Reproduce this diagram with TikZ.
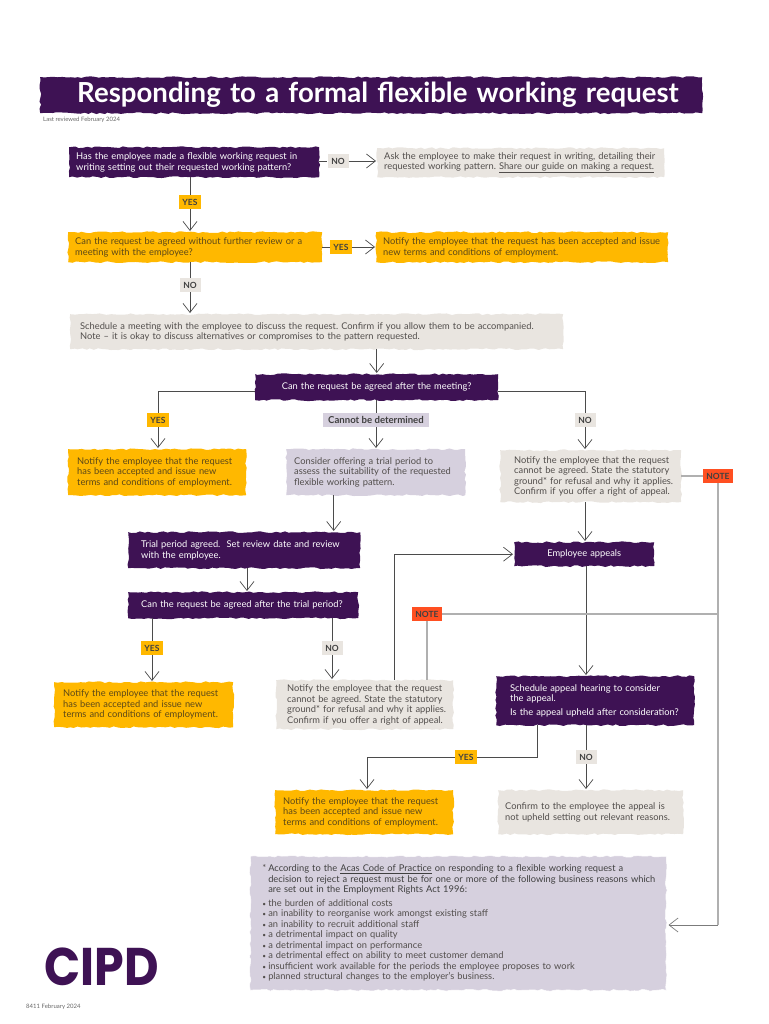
\documentclass[tikz,border=0pt]{standalone}
\usepackage{fontspec}
\setmainfont{Lato}
\newfontfamily\logofont{Poppins}
\definecolor{BrandPurple}{RGB}{62,18,84}
\definecolor{BrandAmber}{RGB}{255,184,0}
\definecolor{BrandGrey}{RGB}{233,229,224}
\definecolor{BrandLilac}{RGB}{214,208,222}
\definecolor{BrandRed}{RGB}{255,79,33}
\definecolor{BodyText}{RGB}{82,78,76}
\definecolor{AmberText}{RGB}{92,72,24}
\definecolor{DarkLine}{RGB}{75,75,75}
\definecolor{PaleLine}{RGB}{176,176,176}
\usetikzlibrary{arrows.meta, decorations.pathmorphing}
\newcommand{\bulletline}[1]{\makebox[6pt][l]{\scalebox{0.7}{•}}#1}
\frenchspacing
\tikzset{
  brush/.style={decorate, decoration={random steps, segment length=4pt, amplitude=0.9pt}},
  leadin/.style={execute at begin node={\leftskip=#1\relax}},
  flowbox/.style 2 args={anchor=north west, brush, inner xsep=7pt, inner ysep=2pt, text width=#1, minimum height=#2, align=left, font=\fontsize{9.3}{10.5}\selectfont},
  purplebox/.style 2 args={flowbox={#1}{#2}, fill=BrandPurple, text=white},
  amberbox/.style 2 args={flowbox={#1}{#2}, fill=BrandAmber, text=AmberText},
  greybox/.style 2 args={flowbox={#1}{#2}, fill=BrandGrey, text=BodyText},
  lilacbox/.style 2 args={flowbox={#1}{#2}, fill=BrandLilac, text=BodyText},
  tagbox/.style={inner sep=0pt, minimum height=14pt, font=\fontsize{8.5}{10}\selectfont\bfseries, text=black!75},
  yestag/.style={tagbox, fill=BrandAmber, minimum width=22pt},
  notag/.style={tagbox, fill=BrandGrey, minimum width=21pt},
  notetag/.style={tagbox, fill=BrandRed, minimum width=30pt},
  plainline/.style={DarkLine, line width=0.7pt},
  paleline/.style={PaleLine, line width=1.1pt},
  flowarrow/.style={plainline, -{Straight Barb[length=9pt, width=14pt, line width=0.7pt]}, shorten >=1pt},
  smalltext/.style={anchor=west, inner sep=0pt, font=\fontsize{6}{7}\selectfont, text=black!60}
}
\begin{document}
\begin{tikzpicture}[x=1pt, y=-1pt]
          \pgfmathsetseed{8411}
          \useasboundingbox (0,0) rectangle (768,1024);
          \node[purplebox={626pt}{36pt}, inner xsep=18pt, leadin=19pt, font=\fontsize{27.6}{30}\selectfont\bfseries] (title) at (40,77) {Responding to a formal flexible working request};
          \node[smalltext] (reviewed) at (43,120) {Last reviewed February 2024};

          \node[purplebox={236pt}{30pt}] (qwritten) at (69,147) {Has the employee made a flexible working request in\\writing setting out their requested working pattern?};
          \node[greybox={273pt}{29pt}] (askwritten) at (377,148) {Ask the employee to make their request in writing, detailing their\\requested working pattern. \underline{Share our guide on making a request.}};
          \node[notag] (nowritten) at (338,161) {NO};
          \node[yestag] (yeswritten) at (190,202) {YES};

          \node[amberbox={240pt}{30pt}] (qfurther) at (68,232) {Can the request be agreed without further review or a\\meeting with the employee?};
          \node[amberbox={278pt}{30pt}] (acceptfurther) at (376,232) {Notify the employee that the request has been accepted and issue\\new terms and conditions of employment.};
          \node[yestag] (yesfurther) at (341,247) {YES};
          \node[notag] (nofurther) at (190,285) {NO};

          \node[greybox={473pt}{35pt}, inner xsep=10pt] (meeting) at (70,314) {Schedule a meeting with the employee to discuss the request. Confirm if you allow them to be accompanied.\\Note -- it is okay to discuss alternatives or compromises to the pattern requested.};

          \node[purplebox={229pt}{26pt}, align=center] (qmeeting) at (255,374) {Can the request be agreed after the meeting?};
          \node[yestag] (yesmeeting) at (158,420) {YES};
          \node[tagbox, fill=BrandLilac, minimum width=106pt, font=\fontsize{9.6}{10}\selectfont\bfseries] (unknownmeeting) at (376,420) {Cannot be determined};
          \node[notag] (nomeeting) at (585,420) {NO};

          \node[amberbox={160pt}{46pt}, inner xsep=9pt] (acceptmeeting) at (68,449) {Notify the employee that the request\\has been accepted and issue new\\terms and conditions of employment.};
          \node[lilacbox={163pt}{46pt}, inner xsep=8pt] (trialoffer) at (286,449) {Consider offering a trial period to\\assess the suitability of the requested\\flexible working pattern.};
          \node[greybox={165pt}{52pt}, inner xsep=8pt, leadin=6pt] (refusemeeting) at (500,450) {Notify the employee that the request\\cannot be agreed. State the statutory\\ground* for refusal and why it applies.\\Confirm if you offer a right of appeal.};
          \node[notetag] (noteright) at (718,476) {NOTE};

          \node[purplebox={206pt}{36pt}, inner xsep=13pt] (trialagreed) at (128,532) {Trial period agreed.\ \ Set review date and review\\with the employee.};
          \node[purplebox={126pt}{24pt}, align=center] (appeals) at (514,542) {Employee appeals};
          \node[purplebox={204pt}{26pt}, inner xsep=13pt] (qtrial) at (128,592) {Can the request be agreed after the trial period?};
          \node[notetag] (notemiddle) at (427,614) {NOTE};
          \node[yestag] (yestrial) at (152,648) {YES};
          \node[notag] (notrial) at (332,648) {NO};

          \node[amberbox={161pt}{45pt}, inner xsep=9pt] (accepttrial) at (54,682) {Notify the employee that the request\\has been accepted and issue new\\terms and conditions of employment.};
          \node[greybox={163pt}{49pt}, inner xsep=7pt, leadin=4pt] (refusetrial) at (276,680) {Notify the employee that the request\\cannot be agreed. State the statutory\\ground* for refusal and why it applies.\\Confirm if you offer a right of appeal.};
          \node[purplebox={170pt}{49pt}, inner xsep=14pt] (hearing) at (496,676) {Schedule appeal hearing to consider\\the appeal.\\[3pt]Is the appeal upheld after consideration?};
          \node[yestag] (yesappeal) at (466,757) {YES};
          \node[notag] (noappeal) at (586,757) {NO};

          \node[amberbox={162pt}{44pt}, inner xsep=8pt] (acceptappeal) at (275,790) {Notify the employee that the request\\has been accepted and issue new\\terms and conditions of employment.};
          \node[greybox={171pt}{44pt}] (rejectappeal) at (498,790) {Confirm to the employee the appeal is\\not upheld setting out relevant reasons.};

          \node[lilacbox={400pt}{134pt}, inner xsep=8pt, leadin=4pt, draw=white, line width=0.5pt] (reasons) at (250,856) {\makebox[6pt][l]{*}{\color{black!75}\parbox[t]{390pt}{According to the \underline{Acas Code of Practice} on responding to a flexible working request a\\decision to reject a request must be for one or more of the following business reasons which\\are set out in the Employment Rights Act 1996:}}\\[4pt]
            \bulletline{the burden of additional costs}\\
            \bulletline{an inability to reorganise work amongst existing staff}\\
            \bulletline{an inability to recruit additional staff}\\
            \bulletline{a detrimental impact on quality}\\
            \bulletline{a detrimental impact on performance}\\
            \bulletline{a detrimental effect on ability to meet customer demand}\\
            \bulletline{insufficient work available for the periods the employee proposes to work}\\
            \bulletline{planned structural changes to the employer's business.}};

          \node[anchor=west, inner sep=0pt, text=BrandPurple, font=\fontsize{50}{50}\logofont\bfseries] (logo) at (44,967) {\scalebox{0.95}[1.06]{CIPD}};
          \node[smalltext] (printref) at (26,1007) {8411 February 2024};

          \draw[plainline] (qwritten.east |- nowritten) -- (nowritten);
          \draw[flowarrow] (nowritten) -- (askwritten.west |- nowritten);
          \draw[plainline] (qwritten.south -| yeswritten) -- (yeswritten);
          \draw[flowarrow] (yeswritten) -- (qfurther.north -| yeswritten);
          \draw[plainline] (qfurther.east |- yesfurther) -- (yesfurther);
          \draw[flowarrow] (yesfurther) -- (acceptfurther.west |- yesfurther);
          \draw[plainline] (qfurther.south -| nofurther) -- (nofurther);
          \draw[flowarrow] (nofurther) -- (meeting.north -| nofurther);
          \draw[flowarrow] (meeting.south -| qmeeting) -- (qmeeting.north);
          \draw[plainline] ([yshift=-4pt]qmeeting.west) -| (yesmeeting);
          \draw[flowarrow] (yesmeeting) -- (acceptmeeting.north -| yesmeeting);
          \draw[plainline] (qmeeting.south -| unknownmeeting) -- (unknownmeeting);
          \draw[flowarrow] (unknownmeeting) -- (trialoffer.north -| unknownmeeting);
          \draw[plainline] ([yshift=-4pt]qmeeting.east) -| (nomeeting);
          \draw[flowarrow] (nomeeting) -- (refusemeeting.north -| nomeeting);
          \draw[flowarrow] ([xshift=-42pt]trialoffer.south) -- ([xshift=-42pt]trialoffer.south |- trialagreed.north);
          \draw[flowarrow] (refusemeeting.south -| nomeeting) -- (appeals.north -| nomeeting);
          \draw[flowarrow] (trialagreed.south -| 247,0) -- (qtrial.north -| 247,0);
          \draw[plainline] (qtrial.south -| yestrial) -- (yestrial);
          \draw[flowarrow] (yestrial) -- (accepttrial.north -| yestrial);
          \draw[plainline] (qtrial.south -| notrial) -- (notrial);
          \draw[flowarrow] (notrial) -- (refusetrial.north -| notrial);
          \draw[flowarrow] (refusetrial.north -| 394,0) |- (appeals.west);
          \draw[flowarrow] (appeals.south -| noappeal) -- (hearing.north -| noappeal);
          \draw[plainline] (hearing.south -| 537,0) |- (yesappeal);
          \draw[flowarrow] (yesappeal) -| (acceptappeal.north -| 367,0);
          \draw[plainline] (hearing.south -| noappeal) -- (noappeal);
          \draw[flowarrow] (noappeal) -- (rejectappeal.north -| noappeal);

          \draw[paleline] (refusemeeting.east |- noteright) -- (noteright);
          \draw[paleline] (notemiddle) -- (refusetrial.north -| notemiddle);
          \draw[paleline] (notemiddle) -- (noteright |- notemiddle);
          \coordinate (notecorner) at (noteright |- 0,925);
          \draw[paleline] (noteright) -- (notecorner);
          \draw[PaleLine!70!black, line width=0.7pt, -{Straight Barb[length=9pt, width=14pt, line width=0.7pt]}] (notecorner) -- ([xshift=2pt]reasons.east |- notecorner);
        \end{tikzpicture}
\end{document}
